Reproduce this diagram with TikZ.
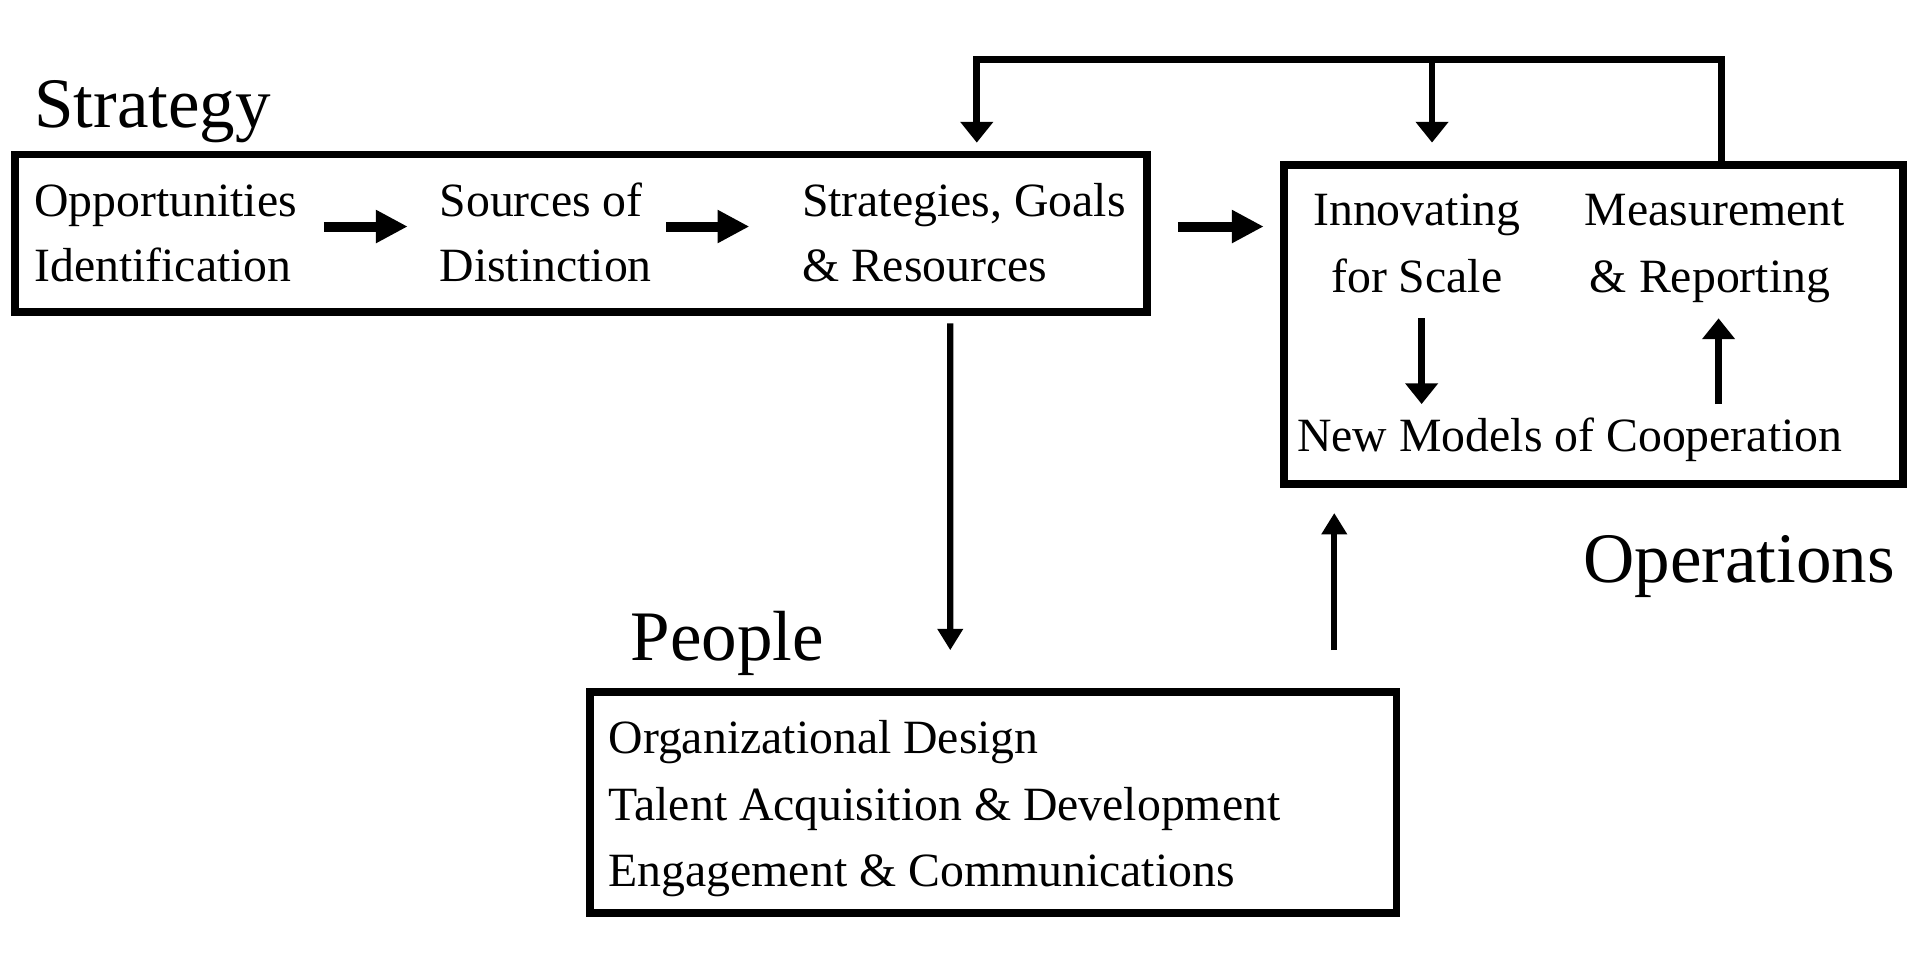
\documentclass[tikz,border=0pt]{standalone}
\usepackage{fontspec}
\setmainfont{Liberation Serif}
\usetikzlibrary{arrows.meta}
\newcommand{\dgbody}{\fontsize{19.5pt}{26pt}\selectfont}
\newcommand{\dghead}{\fontsize{29pt}{34pt}\selectfont}
\tikzset{
  box/.style={draw, line width=3.2pt, inner sep=0pt, outer sep=0pt},
  txt/.style={inner sep=0pt, outer sep=0pt, font=\dgbody},
  head/.style={inner sep=0pt, outer sep=0pt, font=\dghead},
  bigarrow/.style={line width=4.1pt, -{Triangle[length=13pt,width=12.7pt]}},
  fbarrow/.style={line width=2.7pt, -{Triangle[length=8.5pt,width=13pt]}},
  longarrow/.style={line width=2.6pt, -{Triangle[length=8.7pt,width=10pt]}},
}
\begin{document}
\begin{tikzpicture}[x=0.5pt,y=-0.5pt]
\useasboundingbox[fill=white] (0,0) rectangle (1568,796);

% boxes
\node[box, minimum width=462.3pt, minimum height=64.3pt] (strat) at (474.5,190.5) {};
\node[box, minimum width=253pt, minimum height=130.25pt] (ops) at (1301.25,265) {};
\node[box, minimum width=329.35pt, minimum height=90.1pt] (people) at (811.05,655.3) {};

% headings
\node[head, anchor=base west] (hstrat) at (28,104.5) {Strategy};
\node[head, anchor=base west] (hops) at (1293,476) {Operations};
\node[head, anchor=base west] (hpeople) at (515,539.6) {People};

% strategy texts
\node[txt, anchor=base west] (opp1) at (28,177) {Opportunities};
\node[txt, anchor=base west] (opp2) at (28,230) {Identification};
\node[txt, anchor=base west] (src1) at (359,177) {Sources of};
\node[txt, anchor=base west] (src2) at (359,230) {Distinction};
\node[txt, anchor=base west] (st1) at (655,177) {Strategies, Goals};
\node[txt, anchor=base west] (st2) at (655,230) {\& Resources};

% operations texts
\node[txt, anchor=base] (innov) at (1157,184) {Innovating};
\node[txt, anchor=base] (scale) at (1157,238.5) {for Scale};
\node[txt, anchor=base] (meas) at (1400.5,184) {Measurement};
\node[txt, anchor=base] (rep) at (1396.5,238.5) {\& Reporting};
\node[txt, anchor=base] (newm) at (1282,369) {New Models of Cooperation};

% people texts
\node[txt, anchor=base west] (p1) at (497,615) {Organizational Design};
\node[txt, anchor=base west] (p2) at (497,670) {Talent Acquisition \& Development};
\node[txt, anchor=base west] (p3) at (497,724) {Engagement \& Communications};

% strategy internal arrows
\draw[bigarrow, shorten <=11pt, shorten >=13pt] ([yshift=-4pt]opp1.base east) -- ([yshift=-4pt]src1.base west);
\draw[bigarrow, shorten <=9.7pt, shorten >=21.5pt] ([yshift=-4pt]src1.base east) -- ([yshift=-4pt]st1.base west);
% strategy -> operations
\draw[bigarrow, shorten <=12.6pt, shorten >=8.1pt] ([yshift=2.75pt]strat.east) -- ([yshift=2.75pt]strat.east -| ops.west);

% feedback loop
\coordinate (fbr) at (1405.7,48.4);
\coordinate (fbl) at (797.7,48.4);
\coordinate (fbm) at (1169.5,48.4);
\draw[fbarrow, shorten >=4.85pt] (ops.north -| fbr) -- (fbr) -- (fbl) -- (fbl |- strat.north);
\draw[fbarrow, shorten >=9.15pt] (fbm) -- (fbm |- ops.north);

% operations internal arrows
\draw[fbarrow] ([xshift=2pt,yshift=-10.75pt]scale.base) -- ([xshift=2pt,yshift=19.5pt]newm.base -| scale.base);
\draw[fbarrow] ([xshift=3.5pt,yshift=19.5pt]newm.base -| rep.base) -- ([xshift=3.5pt,yshift=-10.75pt]rep.base);

% strategy -> people, people -> operations
\draw[longarrow, shorten <=4.6pt, shorten >=17.1pt] ([xshift=150.75pt]strat.south) -- ([xshift=-17.5pt]people.north);
\draw[longarrow, shorten <=17.1pt, shorten >=11.85pt] ([xshift=139.3pt]people.north) -- ([xshift=-105.8pt]ops.south);
\end{tikzpicture}
\end{document}
